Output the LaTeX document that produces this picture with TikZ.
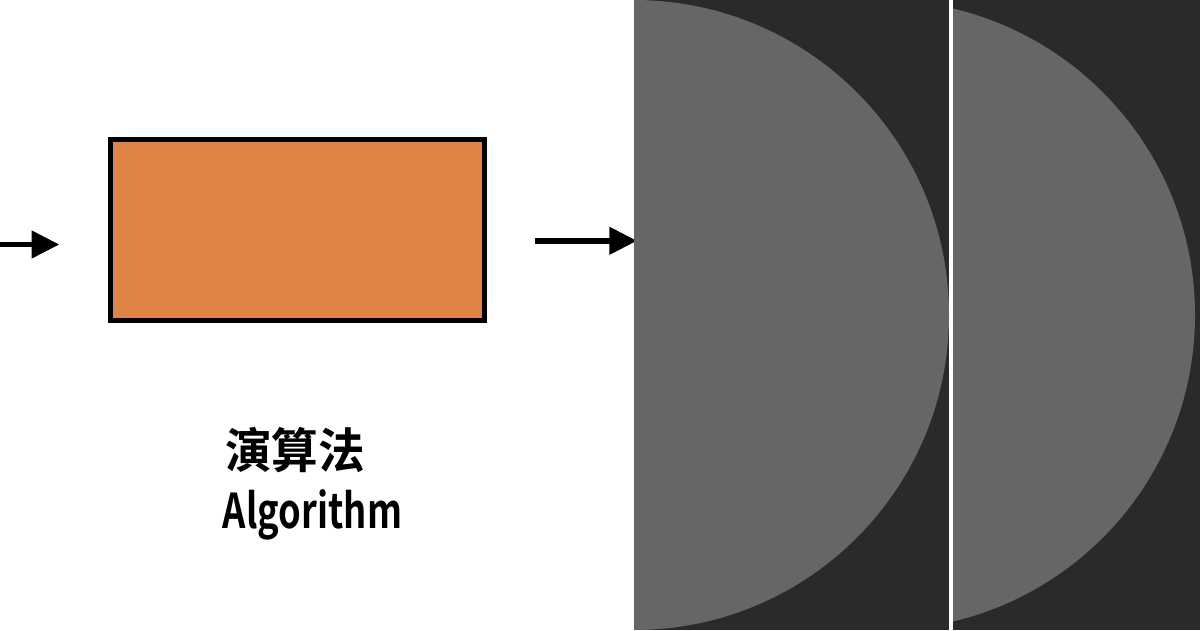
\documentclass[tikz,border=0pt]{standalone}
\usepackage{fontspec}
\usepackage{graphicx}
\newfontfamily\cjk{Noto Sans CJK TC}[UprightFont=* Bold, BoldFont=* Bold]
\usetikzlibrary{arrows.meta}
\definecolor{orangefill}{RGB}{224,132,69}
\definecolor{panel}{RGB}{42,42,42}
\definecolor{disc}{RGB}{102,102,102}
\tikzset{
  flow/.style={line width=5.5pt, -{Triangle[length=27.6pt,width=26.6pt]}},
  algbox/.style={draw=black, line width=5pt, fill=orangefill, inner sep=0pt},
  label/.style={inner sep=0pt, font=\cjk\fontsize{48}{50}\selectfont, text=black}
}
\begin{document}
\begin{tikzpicture}[x=1pt,y=-1pt]
\useasboundingbox (0,0) rectangle (1200,630);
\fill[white] (0,0) rectangle (1200,630);
% box
\node[algbox, minimum width=374pt, minimum height=181pt] (box) at (297.5,230) {};
% arrows
\coordinate (a1s) at (0,244.5);
\coordinate (a1e) at (59.3,244.5);
\draw[flow] (a1s) -- (a1e);
\coordinate (a2s) at (535,240.8);
\coordinate (a2e) at (637,240.8);
\draw[flow] (a2s) -- (a2e);
% labels
\node[label] (zh) at (295,450) {\resizebox{140pt}{\height}{演算法}};
\node[label, anchor=base] (en) at (312.5,528) {\resizebox{179pt}{\height}{Algorithm}};
% dark panels
\fill[panel] (634,0) rectangle (949,630);
\fill[panel] (953,0) rectangle (1200,630);
\begin{scope}
\clip (634,0) rectangle (949,630);
\fill[disc] (634,315) circle[radius=315];
\end{scope}
\begin{scope}
\clip (953,0) rectangle (1200,630);
\fill[disc] (880,315) circle[radius=315];
\end{scope}
\end{tikzpicture}
\end{document}
